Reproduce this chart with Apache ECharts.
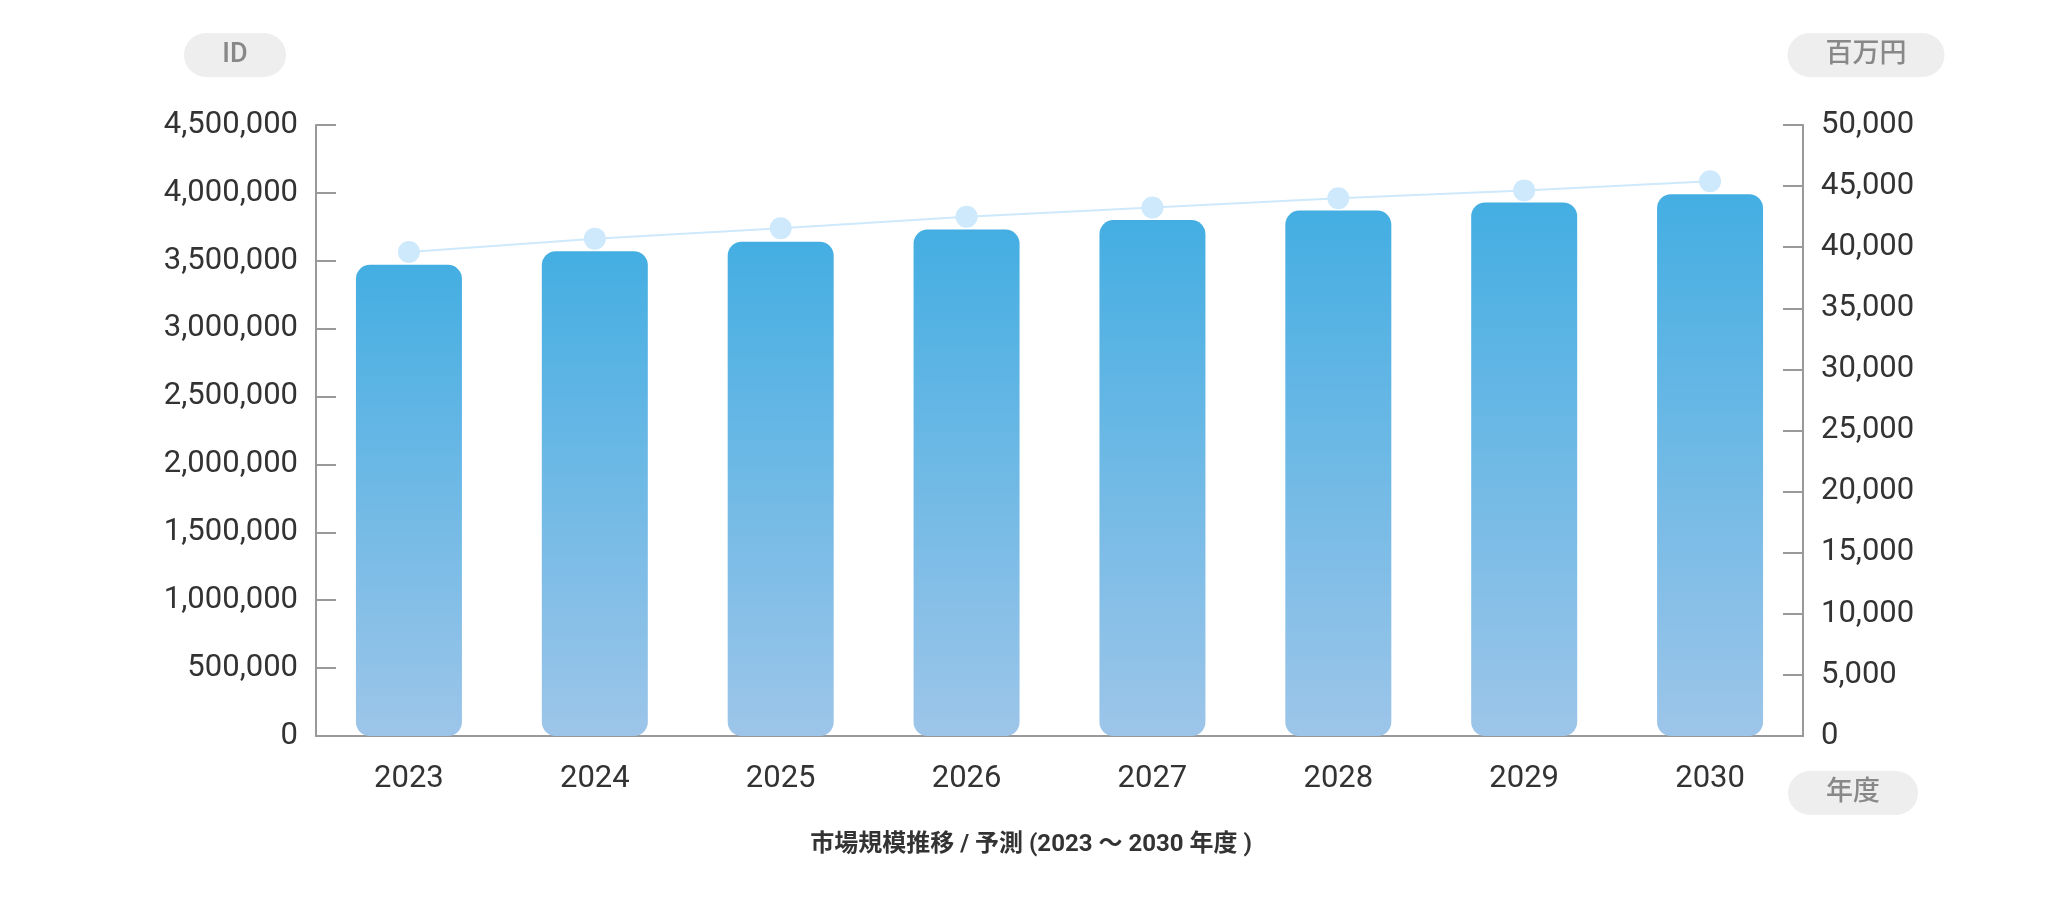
<!DOCTYPE html><html><head><meta charset="utf-8"><script src="https://cdn.jsdelivr.net/npm/echarts@6/dist/echarts.min.js"></script>
<style>html,body{margin:0;padding:0;background:#fff}#c{width:2047px;height:899px}</style></head><body><div id="c"></div><script>
const years=['2023','2024','2025','2026','2027','2028','2029','2030'];
const ids=[3470000,3570000,3640000,3730000,3800000,3870000,3930000,3990000];
const market=[39600,40700,41550,42500,43250,44000,44650,45400];
const chart=echarts.init(document.getElementById('c'));
const F='Roboto, "Noto Sans CJK JP", sans-serif';
const pill=(cx,cy,w,t)=>({type:'group',children:[
 {type:'rect',shape:{x:cx-w/2,y:cy-22,width:w,height:44,r:22},style:{fill:'#eeeeee'}},
 {type:'text',x:cx,y:cy,style:{text:t,fill:'#888',font:'500 27px '+F,align:'center',verticalAlign:'middle'}}]});
chart.setOption({
 animation:false,
 grid:{left:316,right:2047-1803,top:125,bottom:899-736},
 xAxis:{type:'category',data:years,axisLine:{lineStyle:{color:'#999',width:2}},axisTick:{show:false},
  axisLabel:{color:'#333',fontSize:31,fontFamily:F,margin:28}},
 yAxis:[
  {type:'value',min:0,max:4500000,interval:500000,splitLine:{show:false},
   axisLine:{show:true,lineStyle:{color:'#999',width:2}},axisTick:{show:true,inside:true,length:20,lineStyle:{color:'#999',width:2}},
   axisLabel:{color:'#333',fontSize:31,fontFamily:F,margin:18,formatter:v=>v.toLocaleString('en-US')}},
  {type:'value',min:0,max:50000,interval:5000,splitLine:{show:false},position:'right',
   axisLine:{show:true,lineStyle:{color:'#999',width:2}},axisTick:{show:true,inside:true,length:20,lineStyle:{color:'#999',width:2}},
   axisLabel:{color:'#333',fontSize:31,fontFamily:F,margin:18,formatter:v=>v.toLocaleString('en-US')}}],
 series:[
  {type:'bar',data:ids,barWidth:106,itemStyle:{borderRadius:14,color:new echarts.graphic.LinearGradient(0,0,0,1,[{offset:0,color:'#44aee2'},{offset:1,color:'#9dc5e9'}])}},
  {type:'line',yAxisIndex:1,data:market,symbol:'circle',symbolSize:22,lineStyle:{color:'#cde9fb',width:2},itemStyle:{color:'#cde9fb'}}],
 graphic:[pill(235,55,102,'ID'),pill(1866,55,157,'百万円'),pill(1853,793,130,'年度'),
  {type:'text',x:1031,y:845,style:{text:'市場規模推移 / 予測 (2023 〜 2030 年度 )',fill:'#333',font:'bold 24px '+F,align:'center',verticalAlign:'middle'}}]
});
</script></body></html>
